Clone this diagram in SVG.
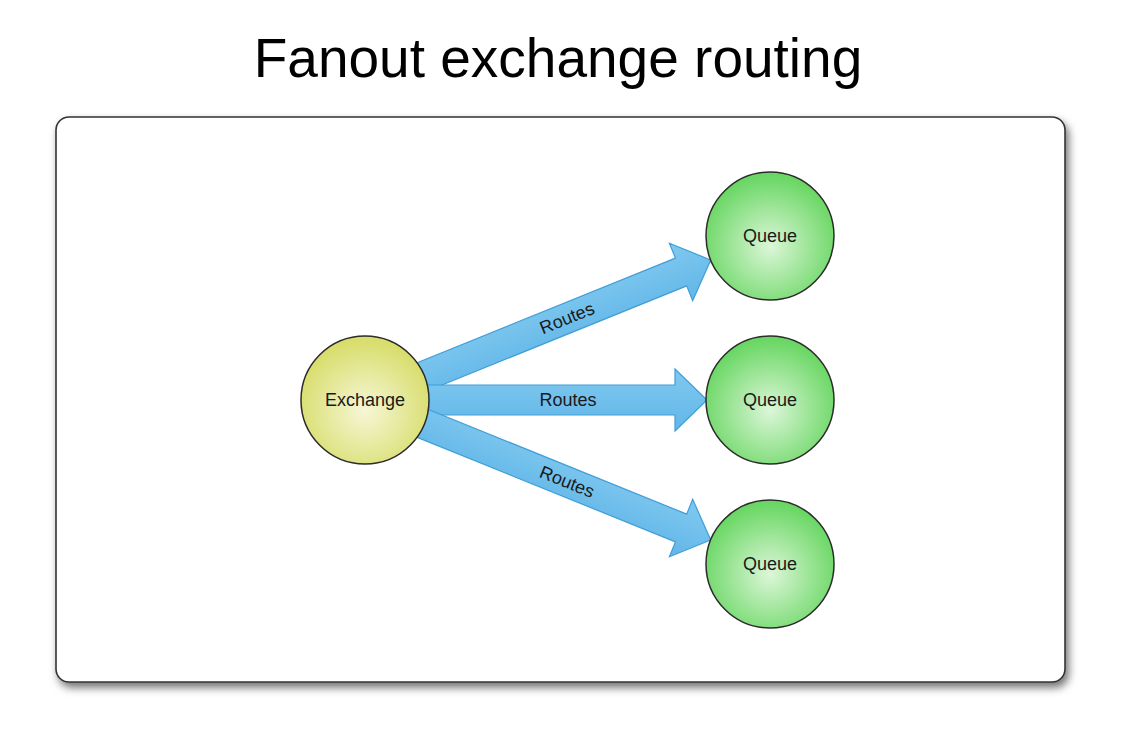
<svg xmlns="http://www.w3.org/2000/svg" width="1127" height="753" viewBox="0 0 1127 753">
<defs>
<filter id="sh" x="-5%" y="-5%" width="115%" height="120%">
<feDropShadow dx="3" dy="5" stdDeviation="4" flood-color="#000" flood-opacity="0.55"/>
</filter>
<radialGradient id="gx" cx="50%" cy="58%" r="55%">
<stop offset="0" stop-color="#f6f7d6"/>
<stop offset="1" stop-color="#d8dd6c"/>
</radialGradient>
<radialGradient id="gq" cx="50%" cy="58%" r="55%">
<stop offset="0" stop-color="#dcf6d8"/>
<stop offset="1" stop-color="#6ad764"/>
</radialGradient>
<linearGradient id="ga" x1="0" y1="0" x2="0" y2="1">
<stop offset="0" stop-color="#80c9ef"/>
<stop offset="1" stop-color="#62b6e8"/>
</linearGradient>
</defs>
<style>
.node{stroke:#2b2b2b;stroke-width:1.5}
.lbl{font-family:"Liberation Sans",Arial,Helvetica,sans-serif;font-size:18px;fill:#1a1a1a;text-anchor:middle;dominant-baseline:central}
.arrow{fill:url(#ga);stroke:#3f9ed8;stroke-width:1.2}
</style>
<rect width="1127" height="753" fill="#ffffff"/>
<text x="558" y="77" font-family="'Liberation Sans',Arial,Helvetica,sans-serif" font-size="55" fill="#000" text-anchor="middle">Fanout exchange routing</text>
<rect id="frame" x="56" y="117" width="1009" height="565" rx="13" ry="13" fill="#fff" stroke="#333" stroke-width="1.6" filter="url(#sh)"/>
<g id="connectors">
<g transform="translate(365,400) rotate(-22.05)">
<polygon class="arrow" points="55,-15 341,-15 341,-31 373,0 341,31 341,15 55,15"/>
<text class="lbl" x="218" y="0">Routes</text>
</g>
<g transform="translate(365,400)">
<polygon class="arrow" points="55,-15 310,-15 310,-31 342,0 310,31 310,15 55,15"/>
<text class="lbl" x="203" y="0">Routes</text>
</g>
<g transform="translate(365,400) rotate(22.05)">
<polygon class="arrow" points="55,-15 341,-15 341,-31 373,0 341,31 341,15 55,15"/>
<text class="lbl" x="218" y="0">Routes</text>
</g>
</g>
<g id="exchange">
<circle class="node" cx="365" cy="400" r="64" fill="url(#gx)"/>
<text class="lbl" x="365" y="400">Exchange</text>
</g>
<g id="queue1">
<circle class="node" cx="770" cy="236" r="64" fill="url(#gq)"/>
<text class="lbl" x="770" y="236">Queue</text>
</g>
<g id="queue2">
<circle class="node" cx="770" cy="400" r="64" fill="url(#gq)"/>
<text class="lbl" x="770" y="400">Queue</text>
</g>
<g id="queue3">
<circle class="node" cx="770" cy="564" r="64" fill="url(#gq)"/>
<text class="lbl" x="770" y="564">Queue</text>
</g>
</svg>
